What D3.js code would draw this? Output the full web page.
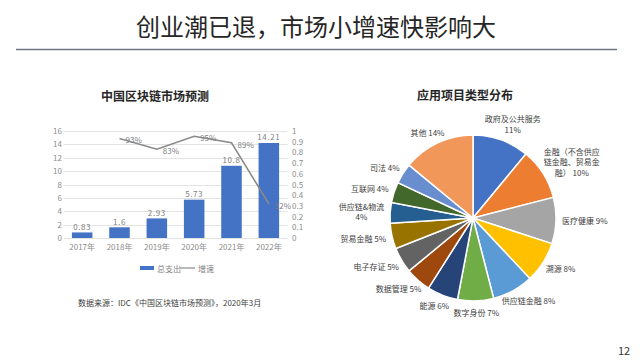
<!DOCTYPE html>
<html>
<head>
<meta charset="utf-8">
<script src="https://cdn.jsdelivr.net/npm/d3@7"></script>
<style>
  html, body { margin: 0; padding: 0; background: #fff; }
  svg { display: block; font-family: "Noto Sans CJK SC", "Noto Sans", sans-serif; }
</style>
</head>
<body>
<svg class="slide" width="640" height="360"></svg>
<script>

// ---- bar + line chart data
const years = ['2017年', '2018年', '2019年', '2020年', '2021年', '2022年'];
const spending = [0.83, 1.6, 2.93, 5.73, 10.8, 14.21];
const growth = [null, 0.93, 0.83, 0.95, 0.89, 0.32];
const leftTicks = [0, 2, 4, 6, 8, 10, 12, 14, 16];
const rightTicks = [0, 0.1, 0.2, 0.3, 0.4, 0.5, 0.6, 0.7, 0.8, 0.9, 1];

// ---- pie data ("\n" = line break in the label)
const appNames = ['政府及公共服务\n', '金融（不含供应\n链金融、贸易金\n融）', '医疗健康', '溯源', '供应链金融',
    '数字身份', '能源', '数据管理', '电子存证', '贸易金融', '供应链&物流\n', '互联网', '司法', '其他'];
const appShares = [11, 10, 9, 8, 8, 7, 6, 5, 5, 5, 4, 4, 4, 14];
const appColors = ['#4472C4', '#ED7D31', '#A5A5A5', '#FFC000', '#5B9BD5', '#70AD47', '#264478',
    '#9E480E', '#636363', '#997300', '#255E91', '#43682B', '#698ED0', '#F1975A'];

const svg = d3.select('.slide');

// ---- slide title
svg.append('text')
    .attr('x', 316).attr('y', 36)
    .attr('text-anchor', 'middle')
    .attr('font-size', 24)
    .attr('fill', '#262626')
    .text('创业潮已退，市场小增速快影响大');

svg.append('line')
    .attr('x1', 16).attr('x2', 617)
    .attr('y1', 49.5).attr('y2', 49.5)
    .attr('stroke', '#707784')
    .attr('stroke-width', 1.5);

svg.append('text')
    .attr('x', 624).attr('y', 350)
    .attr('text-anchor', 'middle')
    .attr('dominant-baseline', 'central')
    .attr('font-size', 11)
    .attr('fill', '#333')
    .text('12');

drawBars();
drawPie();

function drawBars() {

    const g = svg.append('g');

    g.append('text')
        .attr('x', 155).attr('y', 95)
        .attr('text-anchor', 'middle')
        .attr('dominant-baseline', 'central')
        .attr('font-size', 12)
        .attr('font-weight', 'bold')
        .attr('fill', '#262626')
        .text('中国区块链市场预测');

    const x = d3.scaleBand().domain(years).range([63.5, 287.5]).paddingInner(0.45).paddingOuter(0.225);
    const y = d3.scaleLinear().domain([0, 16]).range([238, 131]);
    const y2 = d3.scaleLinear().domain([0, 1]).range([238, 131]);

    // gridlines
    g.append('g')
        .selectAll('line')
        .data(leftTicks)
        .join('line')
        .attr('x1', 63.5).attr('x2', 287.5)
        .attr('y1', d => Math.round(y(d)) + 0.5)
        .attr('y2', d => Math.round(y(d)) + 0.5)
        .attr('stroke', '#e3e3e3');

    // left axis
    const left = g.append('g')
        .attr('transform', 'translate(62,0)')
        .call(d3.axisLeft(y).tickValues(leftTicks).tickSize(0).tickPadding(0));
    left.select('.domain').remove();

    // right axis
    const right = g.append('g')
        .attr('transform', 'translate(292,0)')
        .call(d3.axisRight(y2).tickValues(rightTicks).tickSize(0).tickPadding(0).tickFormat(d3.format('~g')));
    right.select('.domain').remove();

    // x axis
    const bottom = g.append('g')
        .attr('transform', 'translate(0,244)')
        .call(d3.axisBottom(x).tickSize(0).tickPadding(0));
    bottom.select('.domain').remove();

    g.selectAll('.tick text')
        .attr('font-family', '"Noto Sans CJK SC", "Noto Sans", sans-serif')
        .attr('font-size', 8)
        .attr('fill', '#8c8c8c');

    // bars
    g.append('g')
        .selectAll('rect')
        .data(spending)
        .join('rect')
        .attr('x', (d, i) => x(years[i]))
        .attr('width', x.bandwidth())
        .attr('y', d => y(d))
        .attr('height', d => y(0) - y(d))
        .attr('fill', '#4472C4');

    g.append('g')
        .selectAll('text')
        .data(spending)
        .join('text')
        .attr('x', (d, i) => x(years[i]) + x.bandwidth() / 2)
        .attr('y', d => y(d) - 6)
        .attr('text-anchor', 'middle')
        .attr('dominant-baseline', 'central')
        .attr('font-size', 8)
        .attr('letter-spacing', 0.6)
        .attr('fill', '#7f7f7f')
        .text(d => String(d));

    // growth line
    const pts = growth.map((v, i) => ({ v, cx: x(years[i]) + x.bandwidth() / 2 })).filter(d => d.v != null);

    g.append('path')
        .datum(pts)
        .attr('fill', 'none')
        .attr('stroke', '#8a8a8a')
        .attr('stroke-width', 1.5)
        .attr('d', d3.line().x(d => d.cx).y(d => y2(d.v)));

    g.append('g')
        .selectAll('text')
        .data(pts)
        .join('text')
        .attr('x', d => d.cx + 6)
        .attr('y', d => y2(d.v) + 1.5)
        .attr('dominant-baseline', 'central')
        .attr('font-size', 8)
        .attr('fill', '#7f7f7f')
        .text(d => Math.round(d.v * 100) + '%');

    // legend
    const lg = g.append('g');
    lg.append('rect').attr('x', 140).attr('y', 266).attr('width', 14).attr('height', 4).attr('fill', '#4472C4');
    lg.append('text').attr('x', 157).attr('y', 268).attr('dominant-baseline', 'central')
        .attr('font-size', 8).attr('fill', '#7f7f7f').text('总支出');
    lg.append('line').attr('x1', 180).attr('x2', 195).attr('y1', 268).attr('y2', 268)
        .attr('stroke', '#8a8a8a').attr('stroke-width', 1.2);
    lg.append('text').attr('x', 198).attr('y', 268).attr('dominant-baseline', 'central')
        .attr('font-size', 8).attr('fill', '#7f7f7f').text('增速');

    // source
    g.append('text')
        .attr('x', 78).attr('y', 302)
        .attr('dominant-baseline', 'central')
        .attr('font-size', 8)
        .attr('fill', '#404040')
        .text('数据来源：IDC《中国区块链市场预测》，2020年3月');

}

function drawPie() {

    const cx = 473, cy = 218, R = 83;

    svg.append('text')
        .attr('x', 465).attr('y', 94)
        .attr('text-anchor', 'middle')
        .attr('dominant-baseline', 'central')
        .attr('font-size', 12)
        .attr('font-weight', 'bold')
        .attr('fill', '#262626')
        .text('应用项目类型分布');

    const g = svg.append('g').attr('transform', `translate(${cx},${cy})`);

    const arcs = d3.pie().sort(null).value(d => d)(appShares);
    const arc = d3.arc().innerRadius(0).outerRadius(R);
    const labelArc = d3.arc().innerRadius(R + 6).outerRadius(R + 6);

    g.selectAll('path')
        .data(arcs)
        .join('path')
        .attr('d', arc)
        .attr('fill', (d, i) => appColors[i])
        .attr('stroke', '#fff')
        .attr('stroke-width', 1.5);

    // labels: box pushed outward from the anchor point on the rim
    arcs.forEach((a, i) => {

        const lines = appNames[i].split('\n');
        const last = lines.length - 1;
        lines[last] = lines[last] + (lines[last] ? ' ' : '') + appShares[i] + '%';

        const lab = g.append('g');
        const t = lab.append('text')
            .attr('font-size', 8)
            .attr('fill', '#404040')
            .attr('text-anchor', 'middle');

        lines.forEach((ln, k) => {
            t.append('tspan').attr('x', 0).attr('y', k * 10.5).text(ln);
        });

        const bb = t.node().getBBox();
        const mid = (a.startAngle + a.endAngle) / 2;
        const [px, py] = labelArc.centroid(a);
        const tx = px + bb.width / 2 * Math.sin(mid);
        const ty = py - bb.height / 2 * Math.cos(mid);

        lab.attr('transform', `translate(${tx - (bb.x + bb.width / 2)},${ty - (bb.y + bb.height / 2)})`);

    });

}

</script>
</body>
</html>
